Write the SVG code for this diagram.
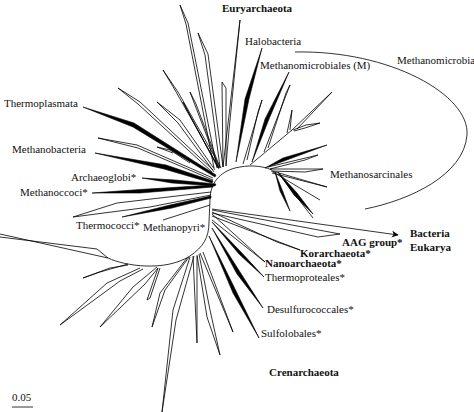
<svg xmlns="http://www.w3.org/2000/svg" width="474" height="412" viewBox="0 0 474 412">
<style>
.l{fill:none;stroke:#000;stroke-width:0.8;stroke-linejoin:round}
.b{fill:#000;stroke:#000;stroke-width:0.6;stroke-linejoin:round}
text{font-family:"Liberation Serif","Times New Roman",serif;font-size:11px;fill:#111}
.bd{font-weight:bold}
</style>
<defs>
<marker id="ah" viewBox="0 0 10 10" refX="9" refY="5" markerWidth="9" markerHeight="7" markerUnits="userSpaceOnUse" orient="auto">
<path d="M0,0 L10,5 L0,10 L3,5 Z" fill="#000"/>
</marker>
</defs>
<rect width="474" height="412" fill="#fff"/>
<g id="tree">
<!-- backbone -->
<path class="l" d="M108,258 C125,266 165,272 190,256 C203,247 209,238 209,222 L210,200 C210,183 220,172 235,168 C248,165 260,165 272,170"/>
<path class="l" d="M0,234 L108,258 M0,237 L97,249 L108,258"/>
<!-- upper-left fan -->
<path class="l" d="M217,168 L188,23 L180,5 L186,24 L214,168"/>
<path class="l" d="M220,167 L205,55 L198,33 L208,54 L223,167"/>
<path class="l" d="M223,167 L240,20 L229,130 L226,166"/>
<path class="l" d="M219,168 L175,90 L163,70 L178,92 L221,168"/>
<path class="l" d="M223,167 L222,82 L226,88 L226,166"/>
<path class="l" d="M213,170 L140,102 L118,88 L138,104 L212,172"/>
<path class="l" d="M215,170 L180,120 L157,102 L178,123 L214,172"/>
<path class="l" d="M218,168 L183,102 L188,112 L219,169"/>
<path class="l" d="M219,168 L190,92 L196,104 L220,168"/>
<polygon class="b" points="83,107 134,123 216,175 215,177 133,127"/>
<!-- Methanobacteria etc -->
<path class="l" d="M213,178 L137,145 L98,138 L138,148 L213,180"/>
<path class="l" d="M190,163 L170,150 L157,147 L173,153"/>
<polygon class="b" points="95,153 166,165 213,181 212,183 164,169"/>
<polygon class="b" points="142,178 175,180 216,184 215,186 172,183"/>
<polygon class="b" points="92,193 140,189.5 213,185 213,187 140,193"/>
<path class="l" d="M211,192 L117,203 L73,217 L150,207 L211,195"/>
<polygon class="b" points="122,217 170,205 211,196 211,198 172,208"/>
<path class="l" d="M163,220 L210,205"/>
<!-- lower-left -->
<path class="l" d="M128,264 L100,272 L83,278 L110,268 L128,265"/>
<path class="l" d="M140,268 L107,283 L60,325 L120,281 L143,269"/>
<path class="l" d="M157,267 L133,287 L100,327 L145,284 L158,268"/>
<path class="l" d="M158,268 L147,300 L150,298 L160,268"/>
<path class="l" d="M187,258 L160,293 L152,327 L165,290 L189,257"/>
<path class="l" d="M190,257 L173,310 L162,412 L176,320 L194,256"/>
<path class="l" d="M193,256 L197,343 L197,256"/>
<path class="l" d="M197,255 L207,317 L220,355 L210,310 L199,254"/>
<path class="l" d="M200,253 L233,332 L203,252"/>
<!-- Crenarchaeota wedges -->
<polygon class="b" points="212,222 241,252 264,277 239,254"/>
<polygon class="b" points="212,228 240,272 263,308 237,274"/>
<polygon class="b" points="209,236 236,291 259,338 233,293"/>
<path class="l" d="M212,214 L265,262 L212,220"/>
<path class="l" d="M212,212 L277,242 L300,250 L212,216"/>
<path class="l" d="M212,210 L340,234 L318,237 L212,213"/>
<path class="l" d="M212,209 L398,235" marker-end="url(#ah)"/>
<!-- Methanosarcinales -->
<polygon class="b" points="265,168 283,158 327,145 284,161"/>
<path class="l" d="M268,167 L318,155 L305,160 L270,169"/>
<path class="l" d="M270,169 L323,169 L305,172 L271,171"/>
<path class="l" d="M272,171 L327,187 L272,173"/>
<path class="l" d="M273,172 L320,200"/>
<polygon class="b" points="275,172 283,192 290,211 280,191"/>
<polygon class="b" points="278,172 297,193 313,214 294,195"/>
<path class="l" d="M279,174 L313,218"/>
<!-- Methanomicrobiales -->
<path class="l" d="M250,165 L292,130"/>
<path class="l" d="M291,131 L332,92 L297,129"/>
<path class="l" d="M293,130 L306,125 L320,123 L305,128 L294,131"/>
<path class="l" d="M287,133 L292,110 L290,130"/>
<path class="l" d="M264,152 L290,85 L286,93 L268,148"/>
<polygon class="b" points="252,162 265,119 289,72 269,119"/>
<path class="l" d="M243,164 L262,100 L258,112 L247,160"/>
<polygon class="b" points="236,162 245,99 262,48 249,99"/>
<!-- Methanomicrobia bracket -->
<path class="l" d="M295,52 C390,50 470,95 467,135 C464,175 410,200 365,209"/>
<!-- scale -->
<path class="l" d="M12,407 L33,407"/>
</g>
<g id="labels">
<text x="222" y="12" class="bd">Euryarchaeota</text>
<text x="245" y="45">Halobacteria</text>
<text x="260" y="69">Methanomicrobiales (M)</text>
<text x="397" y="64">Methanomicrobia</text>
<text x="4" y="107">Thermoplasmata</text>
<text x="12" y="153">Methanobacteria</text>
<text x="330" y="178">Methanosarcinales</text>
<text x="71" y="181">Archaeoglobi*</text>
<text x="20" y="196">Methanoccoci*</text>
<text x="76" y="229">Thermococci*</text>
<text x="143" y="231">Methanopyri*</text>
<text x="410" y="237" class="bd">Bacteria</text>
<text x="410" y="251" class="bd">Eukarya</text>
<text x="342" y="246" class="bd">AAG group*</text>
<text x="300" y="257" class="bd" font-size="10.5">Korarchaeota*</text>
<text x="265" y="267" class="bd" font-size="10.5">Nanoarchaeota*</text>
<text x="265" y="281">Thermoproteales*</text>
<text x="267" y="313">Desulfurococcales*</text>
<text x="261" y="337">Sulfolobales*</text>
<text x="269" y="376" class="bd">Crenarchaeota</text>
<text x="12" y="401">0.05</text>
</g>
</svg>
